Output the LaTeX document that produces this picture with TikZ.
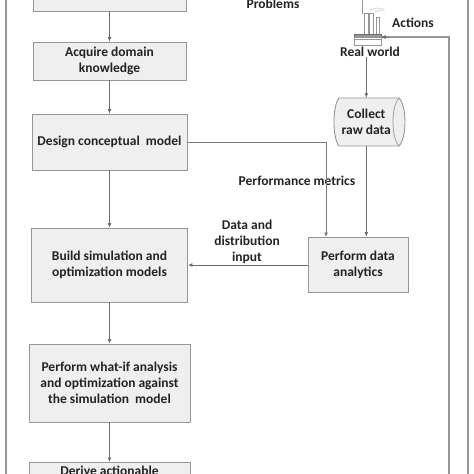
\documentclass[tikz,border=0pt]{standalone}
\usepackage{fontspec}
\setmainfont{Carlito}
\usepackage{xcolor}
\usepackage{tikz}
\usetikzlibrary{arrows.meta}
\definecolor{cedge}{RGB}{150,150,150}
\definecolor{cfill}{RGB}{239,239,239}
\definecolor{cline}{RGB}{110,110,110}
\definecolor{ctext}{RGB}{35,35,35}
\tikzset{
  stepbox/.style={draw=cedge,fill=cfill,line width=0.9pt,align=center,text=ctext,font=\bfseries\fontsize{13.5}{16}\selectfont,inner sep=0pt},
  lbl/.style={align=center,text=ctext,font=\bfseries\fontsize{13.5}{16}\selectfont,inner sep=0pt},
  flow/.style={cline,line width=0.8pt,-{Latex[length=4.5pt,width=4pt]}},
  frame/.style={cedge,line width=1.2pt},
}
\begin{document}
\begin{tikzpicture}[x=1pt,y=-1pt]
\useasboundingbox (0,0) rectangle (474,474);
\clip (0,0) rectangle (474,474);
% outer lines
\draw[frame,line width=1.4pt] (6,-5) -- (6,480);
\draw[frame] (468,-5) -- (468,480);
% left column
\node[stepbox,minimum width=153pt,minimum height=40pt] (define) at (109.5,-9) {};
\node[stepbox,minimum width=153pt,minimum height=38pt] (acquire) at (109.5,61) {Acquire domain\\knowledge};
\node[stepbox,minimum width=155pt,minimum height=56pt] (design) at (109.5,142) {Design conceptual\ \ model};
\node[stepbox,minimum width=156pt,minimum height=74pt] (build) at (109.5,265) {Build simulation and\\optimization models};
\node[stepbox,minimum width=161pt,minimum height=78pt] (whatif) at (109.5,383) {Perform what-if analysis\\and optimization against\\the simulation\ \ model};
\node[stepbox,minimum width=161pt,minimum height=60pt,anchor=north] (derive) at (109.5,462) {\raisebox{-3pt}{Derive actionable}\\[30pt]};
% right column
\node[lbl] (problems) at (273,4) {Problems};
\node[lbl] (actions) at (413,23) {Actions};
\node[lbl] (realworld) at (370,52) {Real world};
\coordinate (factory) at (381,37);
\coordinate (realout) at (366.3,57);
\coordinate (probtop) at (362,-2);
\coordinate (probend) at (362,14);
\fill[cfill] (339,98) -- (399,98) .. controls (407,106) and (407,138) .. (399,146) -- (339,146) .. controls (332.3,138) and (332.3,106) .. (339,98);
\draw[cedge,line width=0.9pt] (339,98) -- (399,98) .. controls (407,106) and (407,138) .. (399,146) -- (339,146) .. controls (332.3,138) and (332.3,106) .. (339,98) -- cycle;
\draw[cedge,line width=0.7pt] (399,98) .. controls (391,106) and (391,138) .. (399,146);
\node[lbl,minimum height=48pt] (collect) at (366.3,122) {Collect\\raw data};
\node[stepbox,minimum width=100pt,minimum height=55pt] (analytics) at (358,264.5) {Perform data\\analytics};
\node[lbl] (metrics) at (297,181) {Performance metrics};
\node[lbl] (datainput) at (247,242) {Data and\\distribution\\input};
% factory
\draw[cedge,fill=white,line width=0.6pt] (364,13) rectangle (368,34);
\draw[cedge,fill=white,line width=0.6pt] (369,13) rectangle (373,34);
\draw[cedge,fill=white,line width=0.6pt] (376,17) rectangle (379,34);
\draw[black!15,line width=0.8pt] (369,10) -- (377,8) -- (384,9);
\draw[black!15,line width=0.8pt] (375,12) -- (381,10) -- (385,11);
\draw[cline,fill=cedge,line width=0.4pt] (354,34.5) rectangle (381,37.5);
\draw[cedge,fill=white,line width=0.6pt] (354,37.5) rectangle (381,45);
\draw[cedge,line width=0.6pt] (354,39.5) -- (381,39.5);
% connectors
\draw[flow] (define.south) -- (acquire.north);
\draw[flow] (acquire.south) -- (design.north);
\draw[flow] (design.south) -- (build.north);
\draw[flow] (build.south) -- (whatif.north);
\draw[flow] (whatif.south) -- (derive.north);
\draw[cedge,line width=0.8pt] (probtop) -- (probend);
\draw[flow] (realout) -- (collect.north);
\draw[flow] (collect.south) -- (collect.south |- analytics.north);
\draw[flow,cedge!80!black] (design.east) -- (326,142) -- (326,237);
\draw[flow] (analytics.west |- 0,265) -- (build.east |- 0,265);
\draw[frame] (449,480) -- (449,37) -- (factory);
\draw[flow] (388,37) -- (factory);
\end{tikzpicture}
\end{document}
